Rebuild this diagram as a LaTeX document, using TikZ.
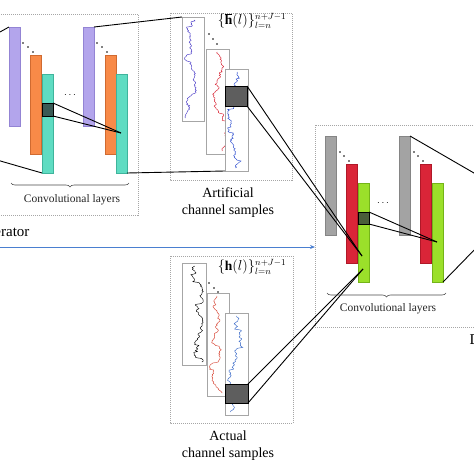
\documentclass[tikz,border=0pt]{standalone}
\usepackage{fontspec}
\setmainfont{Liberation Serif}
\usetikzlibrary{arrows.meta,decorations.pathreplacing}
\definecolor{purp}{HTML}{B3A5EC}
\definecolor{purpB}{HTML}{9384D4}
\definecolor{orng}{HTML}{F88A48}
\definecolor{orngB}{HTML}{D06A30}
\definecolor{teal2}{HTML}{5FDCC2}
\definecolor{teal2B}{HTML}{3FB49C}
\definecolor{gryb}{HTML}{A3A3A3}
\definecolor{grybB}{HTML}{858585}
\definecolor{redb}{HTML}{DA2538}
\definecolor{redbB}{HTML}{B01828}
\definecolor{grnb}{HTML}{9BE02A}
\definecolor{grnbB}{HTML}{74B418}
\definecolor{gsqc}{HTML}{3A5A55}
\definecolor{dsqc}{HTML}{4A5E3A}
\definecolor{ssqc}{HTML}{5E5E5E}
\definecolor{sigpurp}{HTML}{4A3CC8}
\definecolor{sigred}{HTML}{D82030}
\definecolor{sigblue}{HTML}{3050D0}
\definecolor{sigred2}{HTML}{D84838}
\definecolor{sigblue2}{HTML}{3868C8}
\definecolor{arrblue}{HTML}{4A7FD0}
\newcommand\chansig[6]{%
  \pgfmathsetseed{#6}%
  \gdef\cswalk{0.5}%
  \gdef\cspath{}%
  \foreach \i in {0,...,110}{%
    \pgfmathsetmacro\csnx{max(0.08,min(0.92,\cswalk+0.07*rand+0.28*rand*(rnd>0.92)))}%
    \xdef\cswalk{\csnx}%
    \pgfmathsetmacro\cspx{#1+(#2-#1)*\csnx}%
    \pgfmathsetmacro\cspy{#3+(#4-#3)*\i/110}%
    \xdef\cspath{\cspath (\cspx,\cspy)}%
  }%
  \draw[#5, line width=0.45pt] plot coordinates {\cspath};%
}
\begin{document}
\begin{tikzpicture}[x=1pt,y=-1pt,
  layerbar/.style args={#1/#2}{draw=#2, fill=#1, line width=0.5pt, inner sep=0pt, outer sep=0pt,
     minimum width=11pt, minimum height=99pt, anchor=north west},
  focsq/.style={draw=black, fill=#1, line width=0.9pt, inner sep=0pt, outer sep=0pt, anchor=north west},
  panel/.style={draw=gray!70, fill=white, line width=0.5pt, inner sep=0pt, outer sep=0pt, anchor=north west},
  dotbox/.style={draw=gray!70, dash pattern=on 1pt off 1pt, line width=0.5pt},
  conn/.style={draw=black, line width=0.9pt},
  dotdot/.style={fill=black, circle, inner sep=0pt, minimum size=1.7pt},
  convlbl/.style={font=\fontsize{11.5}{13}\selectfont, text=black!85},
  samplbl/.style={font=\fontsize{14}{17}\selectfont, align=center},
  mathlbl/.style={font=\fontsize{13.5}{15}\selectfont},
  brc/.style={decorate, decoration={brace, mirror, amplitude=4pt}, draw=black!70, line width=0.6pt}
]
\useasboundingbox (0,0) rectangle (474,474);
\clip (0,0) rectangle (474,474);
\fill[white] (0,0) rectangle (474,474);

% ---------- dashed boxes ----------
\draw[dotbox] (-20,14) rectangle (138,215);
\draw[dotbox] (170,13) rectangle (292,180);
\draw[dotbox] (170,256) rectangle (293,423);
\draw[dotbox] (315,125) rectangle (500,327);

% ---------- blue arrow ----------
\coordinate (arrS) at (-5,247);
\coordinate (arrE) at (315,247);
\draw[arrblue, line width=0.9pt, -{Stealth[length=5pt,width=4pt]}] (arrS) -- (arrE);

% ---------- generator ----------
\node[layerbar=purp/purpB] (gp1) at (9,27) {};
\node[layerbar=orng/orngB] (go1) at (30,55) {};
\node[layerbar=teal2/teal2B] (gt1) at (42,74) {};
\node[layerbar=purp/purpB] (gp2) at (83,27) {};
\node[layerbar=orng/orngB] (go2) at (105,55) {};
\node[layerbar=teal2/teal2B] (gt2) at (116,74) {};
\node[focsq=gsqc, minimum width=11pt, minimum height=13pt] (gsq) at (42,103) {};
\node[dotdot] (gd1) at (23,43) {};
\node[dotdot] (gd2) at (28,47) {};
\node[dotdot] (gd3) at (33,52) {};
\node[dotdot] (gd5) at (97,43) {};
\node[dotdot] (gd6) at (102,47) {};
\node[dotdot] (gd7) at (107,52) {};
\node (gell) at (70,95) {$\cdots$};
\coordinate (gfoc) at (121,133);
\draw[conn] (gsq.north east) -- (gfoc);
\draw[conn] (gsq.south east) -- (gfoc);
\coordinate (gin1) at (-10,37.5);
\coordinate (gin2) at (-10,158);
\draw[conn] (gin1) -- (gp1.north west);
\draw[conn] (gin2) -- (gt1.south west);
\coordinate (gb1) at (11,183);
\coordinate (gb2) at (129,183);
\draw[brc] (gb1) -- (gb2);
\node[convlbl] (gconv) at (72,200) {Convolutional layers};
\node[font=\fontsize{15}{17}\selectfont, anchor=east] (gname) at (33,232) {Generator};

% ---------- artificial samples ----------
\node[panel, minimum width=22pt, minimum height=104pt] (ap1) at (182,17) {};
\chansig{183}{203}{20}{118}{sigpurp}{3}
\node[panel, minimum width=23pt, minimum height=105pt] (ap2) at (206,49) {};
\chansig{207}{228}{52}{151}{sigred}{7}
\node[panel, minimum width=23pt, minimum height=102pt] (ap3) at (225,69) {};
\chansig{226}{247}{72}{168}{sigblue}{11}
\node[focsq=ssqc, minimum width=22pt, minimum height=20pt] (asq) at (225,86) {};
\node[dotdot] (ad1) at (209,34) {};
\node[dotdot] (ad2) at (213,39) {};
\node[dotdot] (ad3) at (217,44) {};
\node[mathlbl] (alab) at (252,21) {$\{\overline{\mathbf{h}}(l)\}_{l=n}^{n+J-1}$};
\node[samplbl] (atxt) at (228,203) {Artificial\\channel samples};
\draw[conn] (gp2.north east) -- (ap1.north west);
\draw[conn] (gt2.south east) -- (ap3.south west);

% ---------- actual samples ----------
\node[panel, minimum width=24pt, minimum height=102pt] (bp1) at (182,263) {};
\chansig{183}{205}{266}{362}{black}{5}
\node[panel, minimum width=22pt, minimum height=103pt] (bp2) at (207,293) {};
\chansig{208}{228}{296}{393}{sigred2}{9}
\node[panel, minimum width=23pt, minimum height=102pt] (bp3) at (225,313) {};
\chansig{226}{247}{316}{412}{sigblue2}{13}
\node[focsq=ssqc, minimum width=23pt, minimum height=19pt] (bsq) at (225,384) {};
\node[dotdot] (bd1) at (209,283) {};
\node[dotdot] (bd2) at (214,288) {};
\node[dotdot] (bd3) at (218,292) {};
\node[mathlbl] (blab) at (252,267) {$\{\mathbf{h}(l)\}_{l=n}^{n+J-1}$};
\node[samplbl] (btxt) at (228,446) {Actual\\channel samples};

% ---------- discriminator ----------
\node[layerbar=gryb/grybB] (dg1) at (325,136) {};
\node[layerbar=redb/redbB] (dr1) at (346,164) {};
\node[layerbar=grnb/grnbB] (dn1) at (358,183) {};
\node[layerbar=gryb/grybB] (dg2) at (399,136) {};
\node[layerbar=redb/redbB] (dr2) at (420,164) {};
\node[layerbar=grnb/grnbB] (dn2) at (432,183) {};
\node[focsq=dsqc, minimum width=11pt, minimum height=12pt] (dsq) at (358,212) {};
\node[dotdot] (dd1) at (340,152) {};
\node[dotdot] (dd2) at (344,156) {};
\node[dotdot] (dd3) at (349,161) {};
\node[dotdot] (dd4) at (414,152) {};
\node[dotdot] (dd5) at (418,156) {};
\node[dotdot] (dd6) at (423,161) {};
\node (dell) at (383,203) {$\cdots$};
\coordinate (dfocA) at (362,256);
\coordinate (dfocB) at (363,269);
\coordinate (dfoc2) at (437,242);
\draw[conn] (asq.north east) -- (dfocA);
\draw[conn] (asq.south east) -- (dfocA);
\draw[conn] (bsq.north east) -- (dfocB);
\draw[conn] (bsq.south east) -- (dfocB);
\draw[conn] (dsq.north east) -- (dfoc2);
\draw[conn] (dsq.south east) -- (dfoc2);
\coordinate (dout1) at (480,176.5);
\coordinate (dout2) at (480,244);
\draw[conn] (dg2.north east) -- (dout1);
\draw[conn] (dn2.south east) -- (dout2);
\coordinate (db1) at (327,293);
\coordinate (db2) at (446,293);
\draw[brc] (db1) -- (db2);
\node[convlbl] (dconv) at (388,309) {Convolutional layers};
\node[font=\fontsize{15}{17}\selectfont, anchor=west] (dname) at (466,340) {Discriminator};
\end{tikzpicture}
\end{document}
